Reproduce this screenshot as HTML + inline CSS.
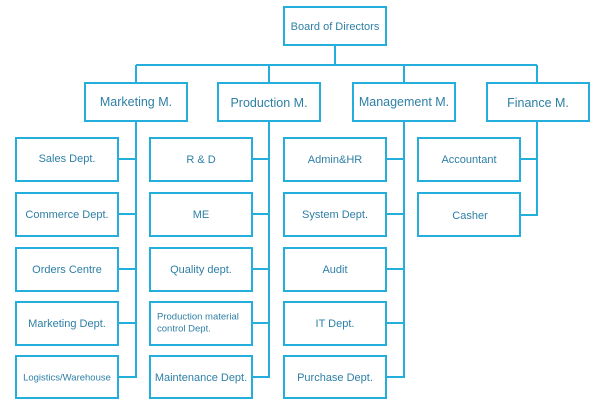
<!DOCTYPE html>
<html><head><meta charset="utf-8"><style>
body{margin:0;background:#fff}
svg text{font-family:"Liberation Sans",sans-serif;fill:#2e7fa6;text-anchor:middle;dominant-baseline:central}
</style></head><body>
<svg width="600" height="405" viewBox="0 0 600 405" xmlns="http://www.w3.org/2000/svg">
<g fill="none" stroke="#23aedc" stroke-width="2">
<rect x="284" y="7" width="102" height="38"/>
<line x1="335" y1="45" x2="335" y2="65"/>
<line x1="136" y1="65" x2="537" y2="65"/>
<line x1="136" y1="65" x2="136" y2="83"/><line x1="269" y1="65" x2="269" y2="83"/>
<line x1="404" y1="65" x2="404" y2="83"/><line x1="537" y1="65" x2="537" y2="83"/>
<rect x="85" y="83" width="102" height="38"/><rect x="218" y="83" width="102" height="38"/>
<rect x="353" y="83" width="102" height="38"/><rect x="487" y="83" width="102" height="38"/>
<polyline points="136,121 136,377 118,377"/>
<polyline points="269,121 269,377 252,377"/>
<polyline points="404,121 404,377 386,377"/>
<polyline points="537,121 537,215 520,215"/>
<rect x="16" y="138" width="102" height="43"/><rect x="16" y="193" width="102" height="43"/>
<rect x="16" y="248" width="102" height="43"/><rect x="16" y="302" width="102" height="43"/>
<rect x="16" y="356" width="102" height="42"/>
<rect x="150" y="138" width="102" height="43"/><rect x="150" y="193" width="102" height="43"/>
<rect x="150" y="248" width="102" height="43"/><rect x="150" y="302" width="102" height="43"/>
<rect x="150" y="356" width="102" height="42"/>
<rect x="284" y="138" width="102" height="43"/><rect x="284" y="193" width="102" height="43"/>
<rect x="284" y="248" width="102" height="43"/><rect x="284" y="302" width="102" height="43"/>
<rect x="284" y="356" width="102" height="42"/>
<rect x="418" y="138" width="102" height="43"/><rect x="418" y="193" width="102" height="43"/>
<line x1="118" y1="159" x2="136" y2="159"/><line x1="118" y1="214" x2="136" y2="214"/>
<line x1="118" y1="269" x2="136" y2="269"/><line x1="118" y1="323" x2="136" y2="323"/>
<line x1="252" y1="159" x2="269" y2="159"/><line x1="252" y1="214" x2="269" y2="214"/>
<line x1="252" y1="269" x2="269" y2="269"/><line x1="252" y1="323" x2="269" y2="323"/>
<line x1="386" y1="159" x2="404" y2="159"/><line x1="386" y1="214" x2="404" y2="214"/>
<line x1="386" y1="269" x2="404" y2="269"/><line x1="386" y1="323" x2="404" y2="323"/>
<line x1="520" y1="159" x2="537" y2="159"/>
</g>
<g transform="translate(0,1)">
<text x="335" y="26" font-size="11">Board of Directors</text>
<text x="136" y="101" font-size="12.5">Marketing M.</text>
<text x="269" y="102" font-size="12.5">Production M.</text>
<text x="404" y="101" font-size="12.5">Management M.</text>
<text x="538" y="102" font-size="12.5">Finance M.</text>
<g font-size="11">
<text x="67" y="158">Sales Dept.</text>
<text x="67" y="214">Commerce Dept.</text>
<text x="67" y="269">Orders Centre</text>
<text x="67" y="323">Marketing Dept.</text>
<text x="67" y="377" font-size="9.5">Logistics/Warehouse</text>
<text x="201" y="159">R &amp; D</text>
<text x="201" y="214">ME</text>
<text x="201" y="269">Quality dept.</text>
<text x="201" y="377">Maintenance Dept.</text>
<text x="335" y="159">Admin&amp;HR</text>
<text x="335" y="214">System Dept.</text>
<text x="335" y="269">Audit</text>
<text x="335" y="323">IT Dept.</text>
<text x="335" y="377">Purchase Dept.</text>
<text x="469" y="159">Accountant</text>
<text x="470" y="215">Casher</text>
</g>
<text x="157" y="316" font-size="9.5" style="text-anchor:start">Production material</text>
<text x="157" y="328" font-size="9.5" style="text-anchor:start">control Dept.</text>
</g>
</svg>
</body></html>
